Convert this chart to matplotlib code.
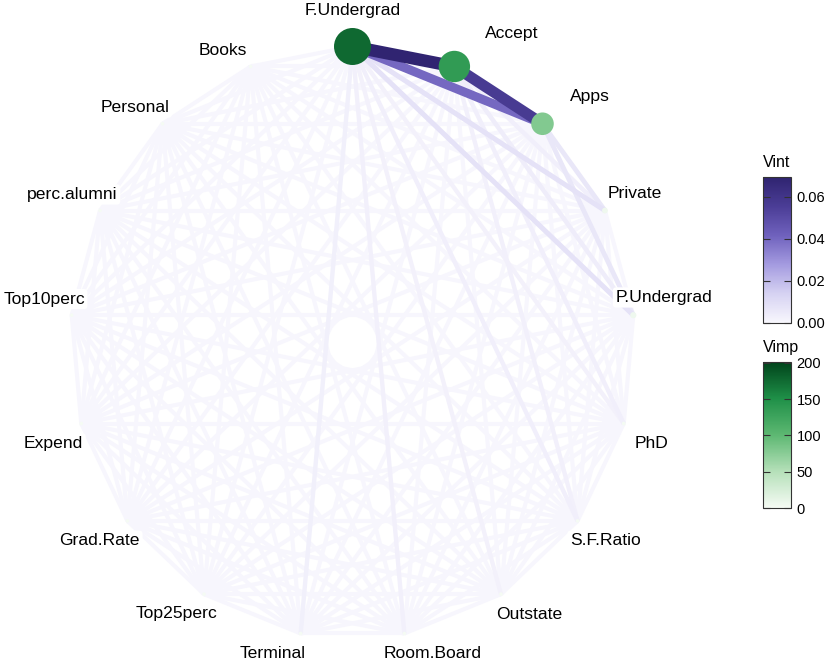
import numpy as np
import matplotlib
matplotlib.use("Agg")
import matplotlib.pyplot as plt
from matplotlib.collections import LineCollection
from matplotlib.colors import LinearSegmentedColormap, Normalize
from matplotlib.cm import ScalarMappable

plt.rcParams['font.family'] = ['Liberation Sans', 'DejaVu Sans']

# %%
# DATA
nodes = ['F.Undergrad', 'Accept', 'Apps', 'Private', 'P.Undergrad', 'PhD',
         'S.F.Ratio', 'Outstate', 'Room.Board', 'Terminal', 'Top25perc',
         'Grad.Rate', 'Expend', 'Top10perc', 'perc.alumni', 'Personal', 'Books']
vimp = [176, 136, 80, 5, 6, 0.8, 0.6, 0.7, 0.6, 0.7, 0.5,
        0.5, 0.6, 0.5, 0.4, 0.5, 0.4]

# interaction strength of the pairs that stand out
edge_from = ['F.Undergrad', 'Accept', 'F.Undergrad', 'F.Undergrad', 'F.Undergrad',
             'Apps', 'Apps', 'Accept', 'Accept', 'F.Undergrad', 'F.Undergrad',
             'F.Undergrad', 'F.Undergrad', 'Accept', 'Accept', 'F.Undergrad']
edge_to = ['Accept', 'Apps', 'Apps', 'Private', 'P.Undergrad',
           'Private', 'P.Undergrad', 'P.Undergrad', 'PhD', 'S.F.Ratio', 'Terminal',
           'Room.Board', 'Outstate', 'S.F.Ratio', 'Private', 'PhD']
edge_vint = [0.069, 0.057, 0.040, 0.008, 0.008,
             0.006, 0.006, 0.004, 0.003, 0.003, 0.0028,
             0.0025, 0.0022, 0.0025, 0.003, 0.0022]
vint_other = 0.0004   # all remaining pairs are close to zero

vint_max = 0.0695
vimp_max = 201

# %%
# COLOURS
purples = LinearSegmentedColormap.from_list(
    'vint', ['#f8f7fd', '#d6d2f2', '#a49be0', '#6f61bd', '#4b3d96', '#2f2470'])
greens = LinearSegmentedColormap.from_list(
    'vimp', ['#f5fbf4', '#b5e0b9', '#5db872', '#1f9048', '#00441b'])
norm_int = Normalize(0, vint_max)
norm_imp = Normalize(0, vimp_max)

# %%
# LAYOUT
fig = plt.figure(figsize=(8.3, 6.6), dpi=100)
ax = fig.add_axes([0, 0, 1, 1])
ax.set_xlim(-352.5 / 282, (830 - 352.5) / 282)
ax.set_ylim(-317.5 / 296, (660 - 317.5) / 296)
ax.axis('off')

n = len(nodes)
theta = np.deg2rad(90 - np.arange(n) * 360 / n)
pos = {nm: (np.cos(t), np.sin(t)) for nm, t in zip(nodes, theta)}

# edges
strong = {}
for a, b, v in zip(edge_from, edge_to, edge_vint):
    strong[frozenset((a, b))] = v
segs, vals = [], []
for i in range(n):
    for j in range(i + 1, n):
        v = strong.get(frozenset((nodes[i], nodes[j])), vint_other)
        segs.append([pos[nodes[i]], pos[nodes[j]]])
        vals.append(v)
vals = np.array(vals)
order = np.argsort(vals)
segs = [segs[k] for k in order]
vals = vals[order]
lc = LineCollection(segs, colors=purples(norm_int(vals)),
                    linewidths=2.9 + 6.1 * vals / vint_max, capstyle='butt', zorder=1)
ax.add_collection(lc)

# nodes (diameter in px grows with importance)
vimp_arr = np.array(vimp)
diam_px = 3 + 34 * (vimp_arr / vimp_arr.max()) ** 0.7
sizes = (diam_px * 0.72) ** 2
xs = [pos[nm][0] for nm in nodes]
ys = [pos[nm][1] for nm in nodes]
ax.scatter(xs, ys, s=sizes, c=greens(norm_imp(vimp_arr)), linewidths=0, zorder=3)

# labels
for nm, t, d in zip(nodes, theta, diam_px):
    r_px = d / 2
    c, sn = np.cos(t), np.sin(t)
    sx = 0 if abs(c) < 1e-6 else np.sign(c)
    dx = sx * (24 + 2.1 * r_px)
    dy = (14 + 1.2 * r_px) if sn > 0 else -(18 + r_px)
    ax.annotate(nm, pos[nm], xytext=(dx, dy), textcoords='offset pixels',
                ha='center', va='center', fontsize=12.6, color='black', zorder=4,
                bbox=dict(boxstyle='round,pad=0.15,rounding_size=0.2',
                          facecolor='white', edgecolor='none'))

# %%
# COLOURBARS
def add_bar(bottom_px, cmap, norm, ticks, fmt, title):
    cax = fig.add_axes([763 / 830, (660 - bottom_px) / 660, 28 / 830, 146 / 660])
    cb = fig.colorbar(ScalarMappable(norm=norm, cmap=cmap), cax=cax)
    cb.set_ticks(ticks)
    cb.set_ticklabels([fmt.format(t) for t in ticks])
    cb.outline.set_linewidth(0.8)
    cb.outline.set_edgecolor('#333333')
    cax.tick_params(axis='y', direction='in', length=5, width=0.8, color='#333333',
                    left=True, right=True, labelleft=False, labelright=True,
                    labelsize=10.5, pad=4)
    cax.set_title(title, loc='left', fontsize=11.5, pad=7)
    return cb

add_bar(323, purples, norm_int, [0, 0.02, 0.04, 0.06], '{:.2f}', 'Vint')
add_bar(508, greens, norm_imp, [0, 50, 100, 150, 200], '{:.0f}', 'Vimp')

plt.savefig('out.png', dpi=100)
